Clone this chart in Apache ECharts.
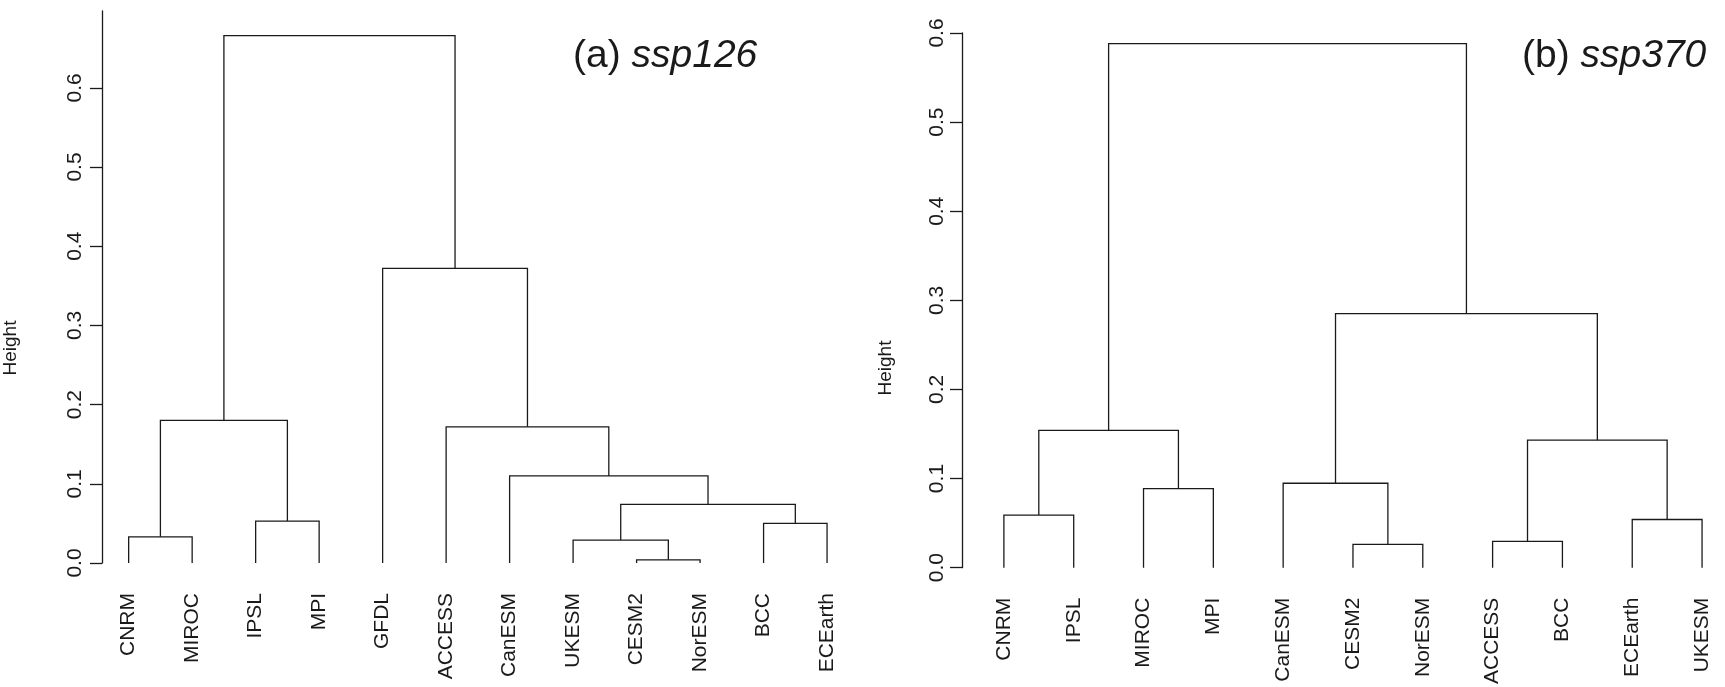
<!DOCTYPE html>
<html><head><meta charset="utf-8">
<script src="https://cdn.jsdelivr.net/npm/echarts@6/dist/echarts.min.js"></script>
<style>html,body{margin:0;padding:0;background:#fff}#c{width:1725px;height:687px}</style>
</head><body><div id="c"></div>
<script>
// ---- data: panel (a) ssp126 ----
const leavesA = ['CNRM','MIROC','IPSL','MPI','GFDL','ACCESS','CanESM','UKESM','CESM2','NorESM','BCC','ECEarth'];
// merge steps: children are leaf names or 1-based merge step numbers
const mergesA = [['CESM2','NorESM'],['UKESM',1],['CNRM','MIROC'],['BCC','ECEarth'],['IPSL','MPI'],[2,4],['CanESM',6],['ACCESS',7],[3,5],['GFDL',8],[9,10]];
const heightsA = [0.004,0.029,0.033,0.050,0.053,0.074,0.110,0.172,0.180,0.372,0.666];
// ---- data: panel (b) ssp370 ----
const leavesB = ['CNRM','IPSL','MIROC','MPI','CanESM','CESM2','NorESM','ACCESS','BCC','ECEarth','UKESM'];
const mergesB = [['CESM2','NorESM'],['ACCESS','BCC'],['ECEarth','UKESM'],['CNRM','IPSL'],['MIROC','MPI'],['CanESM',1],[2,3],[4,5],[6,7],[8,9]];
const heightsB = [0.026,0.0295,0.054,0.059,0.0886,0.0947,0.143,0.154,0.285,0.588];
// tick labels
const yTicksA = [0,0.1,0.2,0.3,0.4,0.5,0.6];
const yTicksB = [0,0.1,0.2,0.3,0.4,0.5,0.6];
const titleA = ['(a) ','ssp126'];
const titleB = ['(b) ','ssp370'];
const yName = 'Height';

function segments(leaves, merges, heights){
  const nodes = [];
  function pos(ref){
    if (typeof ref === 'string') return [leaves.indexOf(ref), 0];
    return nodes[ref-1];
  }
  const out = [];
  merges.forEach((m,i)=>{
    const a = pos(m[0]), b = pos(m[1]), h = heights[i];
    out.push({coords:[[a[0],a[1]],[a[0],h],[b[0],h],[b[0],b[1]]]});
    nodes.push([(a[0]+b[0])/2, h]);
  });
  return out;
}

const FONT = 'Liberation Sans, Arial, Helvetica, sans-serif';
const lineCol = '#1a1a1a';
const txtCol = '#1a1a1a';
function yAxisCfg(grid, max, ticks, margin){
  return {
    type:'value', gridIndex:grid, min:0, max:max, position:'left',
    axisLine:{show:true,onZero:false,lineStyle:{color:lineCol,width:1.3}},
    axisTick:{show:true,length:12,customValues:ticks,lineStyle:{color:lineCol,width:1.3}},
    axisLabel:{customValues:ticks,rotate:90,margin:margin,fontFamily:FONT,fontSize:21,color:txtCol,
      formatter:v=>v.toFixed(1)},
    splitLine:{show:false}
  };
}
function xAxisCfg(grid, leaves, min, max){
  return {
    type:'value', gridIndex:grid, min:min, max:max,
    axisLine:{show:false,onZero:false}, axisTick:{show:false}, splitLine:{show:false},
    axisLabel:{customValues:leaves.map((_,i)=>i), rotate:90, margin:30,
      fontFamily:FONT,fontSize:21,color:txtCol,
      formatter:v=>leaves[Math.round(v)]}
  };
}
const titleRich = {n:{fontFamily:FONT,fontSize:39,fontWeight:'normal',color:txtCol},
                   i:{fontFamily:FONT,fontSize:39,fontWeight:'normal',fontStyle:'italic',color:txtCol}};

const chart = echarts.init(document.getElementById('c'));
chart.setOption({
  backgroundColor:'#fff',
  animation:false,
  title:[
    {text:'{n|'+titleA[0]+'}{i|'+titleA[1]+'}', left:568, top:32, textStyle:{fontWeight:'normal',rich:titleRich}},
    {text:'{n|'+titleB[0]+'}{i|'+titleB[1]+'}', left:1517, top:32, textStyle:{fontWeight:'normal',rich:titleRich}}
  ],
  graphic:[
    {type:'text', x:11, y:348, rotation:Math.PI/2, style:{text:yName, fontFamily:FONT, fontSize:19, fill:txtCol, align:'center', verticalAlign:'middle'}},
    {type:'text', x:886, y:368, rotation:Math.PI/2, style:{text:yName, fontFamily:FONT, fontSize:19, fill:txtCol, align:'center', verticalAlign:'middle'}}
  ],
  grid:[
    {left:102, top:11, width:753, height:552},
    {left:962, top:33, width:761, height:537}
  ],
  xAxis:[xAxisCfg(0, leavesA, -0.42, 11.44), xAxisCfg(1, leavesB, -0.6, 10.3)],
  yAxis:[yAxisCfg(0, 0.697, yTicksA, 16), yAxisCfg(1, 0.6, yTicksB, 14)],
  series:[
    {type:'lines', coordinateSystem:'cartesian2d', xAxisIndex:0, yAxisIndex:0, polyline:true,
     silent:true, lineStyle:{color:lineCol,width:1.3,opacity:1}, data:segments(leavesA, mergesA, heightsA)},
    {type:'lines', coordinateSystem:'cartesian2d', xAxisIndex:1, yAxisIndex:1, polyline:true,
     silent:true, lineStyle:{color:lineCol,width:1.3,opacity:1}, data:segments(leavesB, mergesB, heightsB)}
  ]
});
</script></body></html>
